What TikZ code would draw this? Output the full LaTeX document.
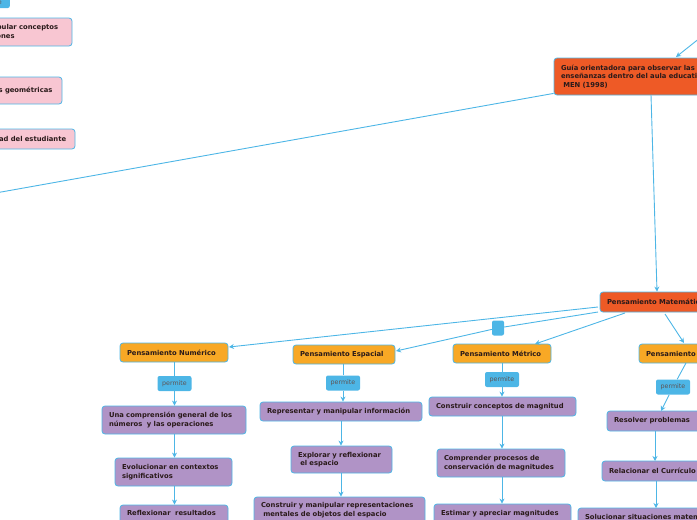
\documentclass[tikz,border=0pt]{standalone}
\usepackage{fontspec}
\setmainfont{DejaVu Sans}
\usetikzlibrary{arrows.meta}
\definecolor{lnk}{HTML}{4DB6E6}
\definecolor{orn}{HTML}{EE5A26}
\definecolor{yel}{HTML}{F8A825}
\definecolor{pur}{HTML}{B093C6}
\definecolor{pnk}{HTML}{F8C6D2}
\definecolor{txt}{HTML}{2A1A1A}
\newcommand{\mybox}[7]{\node[#2, minimum width={#5-#3}, minimum height={#6-#4}, text width={#5-#3-14}] (#1) at ({(#3+#5)/2},{(#4+#6)/2}) {#7};}
\tikzset{
 base/.style={draw=lnk, line width=0.8pt, rounded corners=3pt, inner sep=0pt, align=left, font=\bfseries\fontsize{6.8}{8.6}\selectfont, text=txt},
 orng/.style={base, fill=orn},
 yelw/.style={base, fill=yel},
 purp/.style={base, fill=pur},
 pink/.style={base, fill=pnk},
 lbl/.style={fill=lnk, rounded corners=2pt, inner sep=0pt, minimum width=34pt, minimum height=15pt, font=\fontsize{6.3}{7}\selectfont, text=txt!75},
 con/.style={draw=lnk, line width=0.9pt},
 arr/.style={con, -{Stealth[length=5pt,width=5pt]}}
}
\begin{document}
\begin{tikzpicture}[x=1pt,y=-1pt]
\useasboundingbox (0,0) rectangle (697,520);
\clip (0,0) rectangle (697,520);
% top-left cropped items
\node[lbl, minimum width=20pt, minimum height=10pt, anchor=east] (tl) at (10,3) {e};
\mybox{p1}{pink}{-60}{18}{72}{46}{\hspace*{31pt}manipular conceptos\\ \hspace*{21pt}operaciones}
\mybox{p2}{pink}{-60}{77}{62}{104}{\hspace*{29pt}figuras geométricas\\ }
\mybox{p3}{pink}{-60}{129}{75}{149}{\hspace*{30pt}realidad del estudiante}
% main
\mybox{guia}{orng}{554}{58}{760}{95}{Guía orientadora para observar las\\ enseñanzas dentro del aula educativa\\ \ MEN (1998)}
\coordinate (ur) at (710,30);
\coordinate (ll) at (-10,194);
\draw[arr] (ur) -- (676,57);
\draw[con] (guia.south west) ++(0,-2) -- (ll);
\mybox{pm}{orng}{600}{292}{760}{312}{Pensamiento Matemático}
\draw[arr] (651,95) -- (pm.north -| 657,0);
\mybox{num}{yelw}{120}{343}{228}{362}{Pensamiento Numérico}
\mybox{esp}{yelw}{293}{345}{395}{364}{Pensamiento Espacial}
\mybox{met}{yelw}{453}{344}{551}{363}{Pensamiento Métrico}
\mybox{var}{yelw}{639}{344}{760}{363}{Pensamiento Variacional}
\node[lbl, minimum width=12pt, minimum height=15pt] (mid) at (498,328) {};
\draw[arr] (598,307) -- (229,347);
\draw[con] (598,312) -- (mid);
\draw[arr] (mid) -- (396,351);
\draw[arr] (625,313) -- (535,344);
\draw[arr] (665,314) -- (684,343);
% permite labels
\node[lbl] (l1) at (174.5,383.5) {permite};
\node[lbl] (l2) at (343,383) {permite};
\node[lbl] (l3) at (502,379.5) {permite};
\node[lbl] (l4) at (673,387) {permite};
% numerico
\mybox{n1}{purp}{102}{406}{246}{434}{Una comprensión general de los\\ números\ \ y las operaciones}
\mybox{n2}{purp}{115}{458}{232}{486}{Evolucionar en contextos\\ significativos}
\mybox{n3}{purp}{120}{505}{228}{530}{Reflexionar\ \ resultados\\ \ }
\draw[con] (num.south -| l1) -- (l1);
\draw[arr] (l1) -- (n1.north -| l1);
\draw[arr] (n1.south -| l1) -- (n2.north -| l1);
\draw[arr] (n2.south -| l1) -- (n3.north -| l1);
% espacial
\mybox{e1}{purp}{260}{402}{422}{421}{Representar y manipular información}
\mybox{e2}{purp}{291}{446}{392}{473}{Explorar y reflexionar\\ \ el espacio}
\mybox{e3}{purp}{254}{497}{425}{530}{Construir y manipular representaciones\\ \ mentales de objetos del espacio\\ \ }
\draw[con] (esp.south -| l2) -- (l2);
\draw[arr] (l2) -- (e1.north -| l2);
\draw[arr] (e1.south -| 341,0) -- (e2.north -| 341,0);
\draw[arr] (e2.south -| 341,0) -- (e3.north -| 341,0);
% metrico
\mybox{m1}{purp}{429}{397}{576}{416}{Construir conceptos de magnitud}
\mybox{m2}{purp}{437}{449}{565}{477}{Comprender procesos de\\ conservación de magnitudes}
\mybox{m3}{purp}{434}{504}{571}{530}{Estimar y apreciar magnitudes\\ \ }
\draw[con] (met.south -| l3) -- (l3);
\draw[arr] (l3) -- (m1.north -| l3);
\draw[arr] (m1.south -| l3) -- (m2.north -| l3);
\draw[arr] (m2.south -| l3) -- (m3.north -| l3);
% variacional
\mybox{v1}{purp}{607}{411}{760}{431}{Resolver problemas}
\mybox{v2}{purp}{602}{461}{760}{481}{Relacionar el Currículo}
\mybox{v3}{purp}{578}{508}{780}{535}{Solucionar situaciones matemáticas\\ \ }
\draw[con] (686,363) -- (l4);
\draw[arr] (l4) -- (661,411);
\draw[arr] (655,431) -- (655,461);
\draw[arr] (656,481) -- (656,508);
\end{tikzpicture}
\end{document}
